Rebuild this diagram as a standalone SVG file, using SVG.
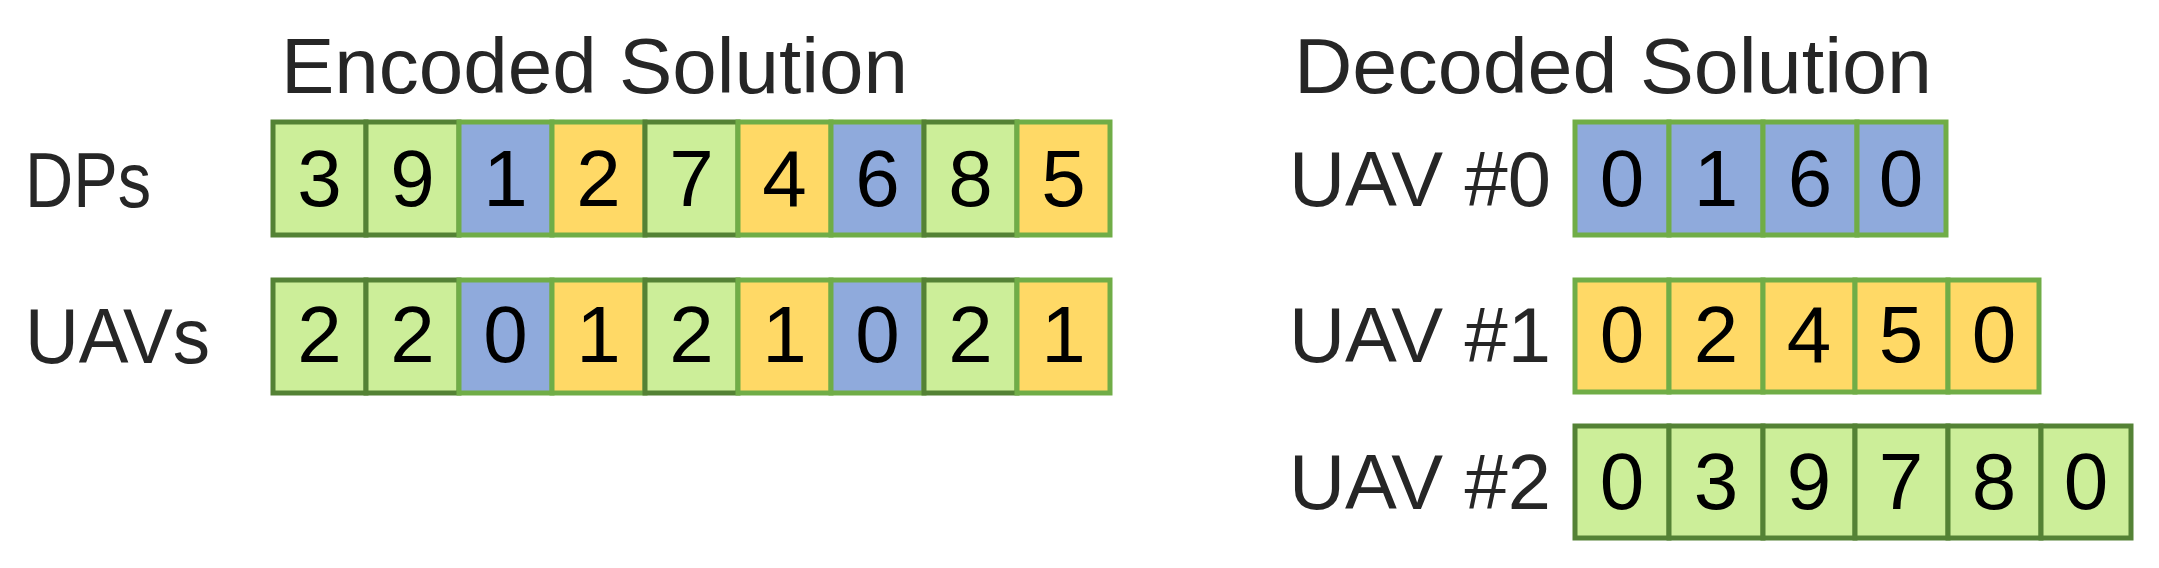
<svg xmlns="http://www.w3.org/2000/svg" width="2159" height="568" viewBox="0 0 2159 568">
<style>
.g{fill:#CCEE99;stroke:#548235;stroke-width:5}
.b{fill:#8FAADC;stroke:#70AD47;stroke-width:5}
.y{fill:#FFD966;stroke:#70AD47;stroke-width:5}
.g2{fill:#CCEE99;stroke:#70AD47;stroke-width:5}
.d{font-family:"Liberation Sans",Arial,sans-serif;font-size:80px;fill:#000;text-anchor:middle}
.l{font-family:"Liberation Sans",Arial,sans-serif;font-size:78px;fill:#262626}
</style>
<rect width="2159" height="568" fill="#fff"/>
<g id="titles">
<text class="l" x="281" y="93" textLength="627" lengthAdjust="spacingAndGlyphs">Encoded Solution</text>
<text class="l" x="1294" y="93" textLength="638" lengthAdjust="spacingAndGlyphs">Decoded Solution</text>
</g>
<g id="labels">
<text class="l" x="25" y="207" textLength="126" lengthAdjust="spacingAndGlyphs">DPs</text>
<text class="l" x="25" y="363" textLength="185" lengthAdjust="spacingAndGlyphs">UAVs</text>
<text class="l" x="1289" y="206" textLength="262" lengthAdjust="spacingAndGlyphs">UAV #0</text>
<text class="l" x="1289" y="362" textLength="262" lengthAdjust="spacingAndGlyphs">UAV #1</text>
<text class="l" x="1289" y="509" textLength="262" lengthAdjust="spacingAndGlyphs">UAV #2</text>
</g>
<g id="dps">
<rect class="g" x="273" y="122" width="93" height="113"/><text class="d" x="319.5" y="206">3</text>
<rect class="g" x="366" y="122" width="93" height="113"/><text class="d" x="412.5" y="206">9</text>
<rect class="b" x="459" y="122" width="93" height="113"/><text class="d" x="505.5" y="206">1</text>
<rect class="y" x="552" y="122" width="93" height="113"/><text class="d" x="598.5" y="206">2</text>
<rect class="g" x="645" y="122" width="93" height="113"/><text class="d" x="691.5" y="206">7</text>
<rect class="y" x="738" y="122" width="93" height="113"/><text class="d" x="784.5" y="206">4</text>
<rect class="b" x="831" y="122" width="93" height="113"/><text class="d" x="877.5" y="206">6</text>
<rect class="g" x="924" y="122" width="93" height="113"/><text class="d" x="970.5" y="206">8</text>
<rect class="y" x="1017" y="122" width="93" height="113"/><text class="d" x="1063.5" y="206">5</text>
</g>
<g id="uavs">
<rect class="g" x="273" y="280" width="93" height="113"/><text class="d" x="319.5" y="362">2</text>
<rect class="g" x="366" y="280" width="93" height="113"/><text class="d" x="412.5" y="362">2</text>
<rect class="b" x="459" y="280" width="93" height="113"/><text class="d" x="505.5" y="362">0</text>
<rect class="y" x="552" y="280" width="93" height="113"/><text class="d" x="598.5" y="362">1</text>
<rect class="g" x="645" y="280" width="93" height="113"/><text class="d" x="691.5" y="362">2</text>
<rect class="y" x="738" y="280" width="93" height="113"/><text class="d" x="784.5" y="362">1</text>
<rect class="b" x="831" y="280" width="93" height="113"/><text class="d" x="877.5" y="362">0</text>
<rect class="g" x="924" y="280" width="93" height="113"/><text class="d" x="970.5" y="362">2</text>
<rect class="y" x="1017" y="280" width="93" height="113"/><text class="d" x="1063.5" y="362">1</text>
</g>
<g id="uav0">
<rect class="b" x="1575" y="122" width="94" height="113"/><text class="d" x="1622" y="206">0</text>
<rect class="b" x="1669" y="122" width="94" height="113"/><text class="d" x="1716" y="206">1</text>
<rect class="b" x="1763" y="122" width="94" height="113"/><text class="d" x="1810" y="206">6</text>
<rect class="b" x="1857" y="122" width="89" height="113"/><text class="d" x="1901" y="206">0</text>
</g>
<g id="uav1">
<rect class="y" x="1575" y="280" width="94" height="112"/><text class="d" x="1622" y="362">0</text>
<rect class="y" x="1669" y="280" width="94" height="112"/><text class="d" x="1716" y="362">2</text>
<rect class="y" x="1763" y="280" width="92" height="112"/><text class="d" x="1809" y="362">4</text>
<rect class="y" x="1855" y="280" width="93" height="112"/><text class="d" x="1901" y="362">5</text>
<rect class="y" x="1948" y="280" width="91" height="112"/><text class="d" x="1994" y="362">0</text>
</g>
<g id="uav2">
<rect class="g" x="1575" y="426" width="94" height="112"/><text class="d" x="1622" y="509">0</text>
<rect class="g" x="1669" y="426" width="94" height="112"/><text class="d" x="1716" y="509">3</text>
<rect class="g" x="1763" y="426" width="92" height="112"/><text class="d" x="1809" y="509">9</text>
<rect class="g" x="1855" y="426" width="93" height="112"/><text class="d" x="1901" y="509">7</text>
<rect class="g" x="1948" y="426" width="93" height="112"/><text class="d" x="1994" y="509">8</text>
<rect class="g" x="2041" y="426" width="90" height="112"/><text class="d" x="2086" y="509">0</text>
</g>
</svg>
